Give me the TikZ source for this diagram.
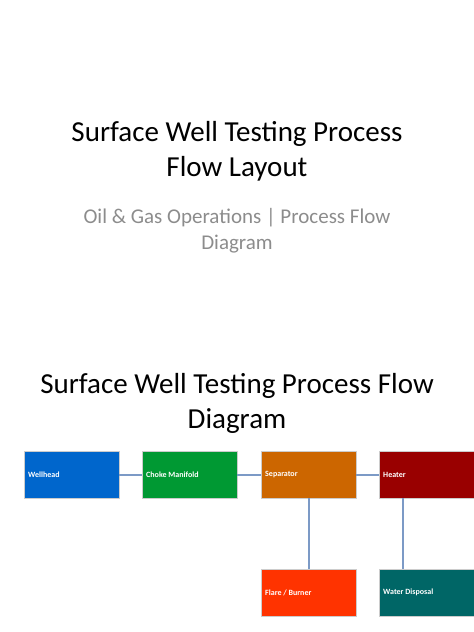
\documentclass[tikz,border=0pt]{standalone}
\usepackage{fontspec}
\setmainfont{Carlito}
\definecolor{cwell}{HTML}{0066CC}
\definecolor{cchoke}{HTML}{009933}
\definecolor{csep}{HTML}{CC6600}
\definecolor{cheat}{HTML}{990000}
\definecolor{cflare}{HTML}{FF3300}
\definecolor{cwater}{HTML}{006666}
\definecolor{cline}{HTML}{7C9AC6}
\definecolor{csub}{HTML}{8C8C8C}
\tikzset{
  unit/.style={rectangle, minimum width=95pt, minimum height=47pt, draw=black!20, line width=0.4pt,
    text=white, anchor=north west, inner sep=0pt},
  lbl/.style={anchor=west, text=white, font=\fontsize{8}{9.5}\selectfont\bfseries, inner sep=0pt},
  conn/.style={draw=cline, line width=1.6pt},
  ttl/.style={align=center, font=\fontsize{29}{35}\selectfont, text=black},
  sub/.style={align=center, font=\fontsize{21}{26}\selectfont, text=csub}
}
\begin{document}
\begin{tikzpicture}[x=1pt,y=-1pt]
\useasboundingbox (0,0) rectangle (474,632);
\clip (0,0) rectangle (474,632);
\node[ttl] (t1) at (237,151) {Surface Well Testing Process\\Flow Layout};
\node[sub] (t2) at (237,231) {Oil \& Gas Operations | Process Flow\\Diagram};
\node[ttl] (t3) at (237,403) {Surface Well Testing Process Flow\\Diagram};
% boxes
\node[unit, fill=cwell]  (wh) at (24,451) {};
\node[unit, fill=cchoke] (cm) at (142,451) {};
\node[unit, fill=csep]   (sp) at (261,451) {};
\node[unit, fill=cheat]  (ht) at (379,451) {};
\node[unit, fill=cflare] (fb) at (261,569) {};
\node[unit, fill=cwater] (wd) at (379,569) {};
\node[lbl] at ([xshift=4pt]wh.west) {Wellhead};
\node[lbl] at ([xshift=4pt]cm.west) {Choke Manifold};
\node[lbl] at ([xshift=4pt]sp.west) {Separator};
\node[lbl] at ([xshift=4pt]ht.west) {Heater};
\node[lbl] at ([xshift=4pt]fb.west) {Flare / Burner};
\node[lbl] at ([xshift=4pt]wd.west) {Water Disposal};
% connectors
\draw[conn] (wh.east) -- (cm.west);
\draw[conn] (cm.east) -- (sp.west);
\draw[conn] (sp.east) -- (ht.west);
\draw[conn] (sp.south) -- (fb.north);
\coordinate (hx) at (403,498);
\coordinate (wx) at (403,569);
\draw[conn] (hx) -- (wx);
\end{tikzpicture}
\end{document}
